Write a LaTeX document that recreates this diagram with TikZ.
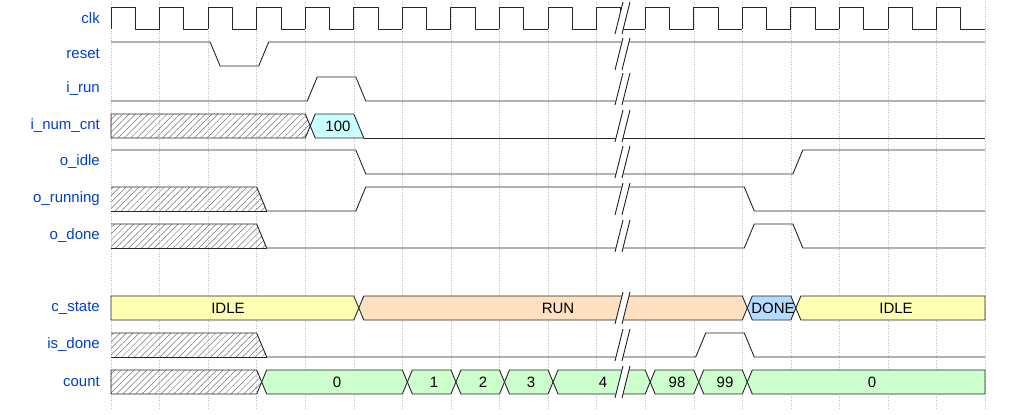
\documentclass[tikz,border=0pt]{standalone}
\usepackage{fontspec}
\setmainfont{Liberation Sans}
\usetikzlibrary{patterns.meta}
\definecolor{lblc}{RGB}{0,65,196}
\definecolor{cidle}{RGB}{255,255,180}
\definecolor{crun}{RGB}{255,224,192}
\definecolor{cdone}{RGB}{180,220,255}
\definecolor{ccnt}{RGB}{204,255,204}
\definecolor{ccyan}{RGB}{200,255,255}
\def\P{48.56}
\newcommand\tx[2]{\pgfmathsetmacro#1{111+\P*(#2)}}
\newcommand\busseg[4]{\tx\xa{#2}\tx\xb{#3}%
 \filldraw[wave,fill=#4] (\xa+5,#1) -- (\xa+10,#1-12) -- (\xb,#1-12) -- (\xb+5,#1) -- (\xb,#1+12) -- (\xa+10,#1+12) -- cycle;}
\newcommand\xpoint[2]{\tx\xb{#2}%
 \filldraw[wave,hatch] (111,#1-12) -- (\xb,#1-12) -- (\xb+5,#1) -- (\xb,#1+12) -- (111,#1+12) -- cycle;}
\newcommand\xfall[2]{\tx\xb{#2}%
 \fill[hatch] (111,#1-12) -- (\xb,#1-12) -- (\xb+10,#1+12) -- (111,#1+12) -- cycle;
 \draw[wave] (111,#1-12) -- (\xb,#1-12) -- (\xb+10,#1+12);\draw[wave] (111,#1+12) -- (\xb+10,#1+12);}
\newcommand\brk[1]{\fill[white] (615,#1+16) -- (623,#1-16) -- (630,#1-16) -- (622,#1+16) -- cycle;
 \draw[wave] (615,#1+16) -- (623,#1-16) (622,#1+16) -- (630,#1-16);}
\tikzset{wave/.style={draw=black!85,line width=0.9pt,line join=round},
 hatch/.style={pattern={Lines[angle=45,distance=4.5pt,line width=0.5pt]},pattern color=black!55},
 lbl/.style={anchor=east,text=lblc,font=\fontsize{15}{17}\selectfont,inner sep=0pt},
 val/.style={font=\fontsize{15}{17}\selectfont,inner sep=0pt}}
\begin{document}
\begin{tikzpicture}[x=1pt,y=-1pt]
\useasboundingbox (0,0) rectangle (1010,415);
\foreach \k in {0,...,18}{\tx\gx{\k}\draw[black!25,dotted] (\gx,2) -- (\gx,408);}
\foreach \n/\t/\y in {a/clk/18,b/reset/54,c/i\_run/89,d/i\_num\_cnt/126,e/o\_idle/162,f/o\_running/199,g/o\_done/236,h/c\_state/308,i/is\_done/345,j/count/382}
 \node[lbl] (l\n) at (100,\y) {\t};
\foreach \k in {0,...,17}{\tx\ga{\k}\tx\gb{\k+0.5}\tx\gc{\k+1}
 \draw[wave] (\ga,29) -- (\ga,7) -- (\gb,7) -- (\gb,29) -- (\gc,29);}
\tx\a{2}\tx\b{3}\draw[wave] (111,42) -- (\a+2,42) -- (\a+12,66) -- (\b+2,66) -- (\b+12,42) -- (985,42);
\tx\a{4}\tx\b{5}\draw[wave] (111,101) -- (\a+2,101) -- (\a+12,77) -- (\b+2,77) -- (\b+12,101) -- (985,101);
\xpoint{126}{4}
\tx\a{4}\tx\b{5}
\filldraw[wave,fill=ccyan] (\a+5,126) -- (\a+10,114) -- (\b,114) -- (\b+10,138) -- (\a+10,138) -- cycle;
\draw[wave] (\b+10,138) -- (985,138);
\node[val] (v100) at (338,126) {100};
\tx\a{5}\tx\b{14}\draw[wave] (111,150) -- (\a+2,150) -- (\a+12,174) -- (\b+2,174) -- (\b+12,150) -- (985,150);
\xfall{199}{3}
\tx\a{3}\tx\b{5}\tx\c{13}\draw[wave] (\a+10,211) -- (\b+2,211) -- (\b+12,187) -- (\c+2,187) -- (\c+12,211) -- (985,211);
\xfall{236}{3}
\tx\a{3}\tx\b{13}\tx\c{14}\draw[wave] (\a+10,248) -- (\b+2,248) -- (\b+12,224) -- (\c+2,224) -- (\c+12,248) -- (985,248);
\tx\a{5}\filldraw[wave,fill=cidle] (111,296) -- (\a,296) -- (\a+5,308) -- (\a,320) -- (111,320) -- cycle;
\busseg{308}{5}{13}{crun}
\busseg{308}{13}{14}{cdone}
\tx\a{14}\filldraw[wave,fill=cidle] (\a+5,308) -- (\a+10,296) -- (985,296) -- (985,320) -- (\a+10,320) -- cycle;
\node[val] (s1) at (228,308) {IDLE};
\node[val] (s2) at (558,308) {RUN};
\node[val] (s3) at (773,308) {DONE};
\node[val] (s4) at (896,308) {IDLE};
\xfall{345}{3}
\tx\a{3}\tx\b{12}\tx\c{13}\draw[wave] (\a+10,357) -- (\b+2,357) -- (\b+12,333) -- (\c+2,333) -- (\c+12,357) -- (985,357);
\xpoint{382}{3}
\busseg{382}{3}{6}{ccnt}\busseg{382}{6}{7}{ccnt}\busseg{382}{7}{8}{ccnt}
\busseg{382}{8}{9}{ccnt}\busseg{382}{9}{11}{ccnt}\busseg{382}{11}{12}{ccnt}\busseg{382}{12}{13}{ccnt}
\tx\a{13}\filldraw[wave,fill=ccnt] (\a+5,382) -- (\a+10,370) -- (985,370) -- (985,394) -- (\a+10,394) -- cycle;
\foreach \n/\x/\v in {c0/337/0,c1/434/1,c2/483/2,c3/531/3,c4/603/4,c5/677/98,c6/725/99,c7/872/0}
 \node[val] (\n) at (\x,382) {\v};
\foreach \y in {18,54,89,126,162,199,236,308,345,382} {\brk{\y}}
\end{tikzpicture}
\end{document}
